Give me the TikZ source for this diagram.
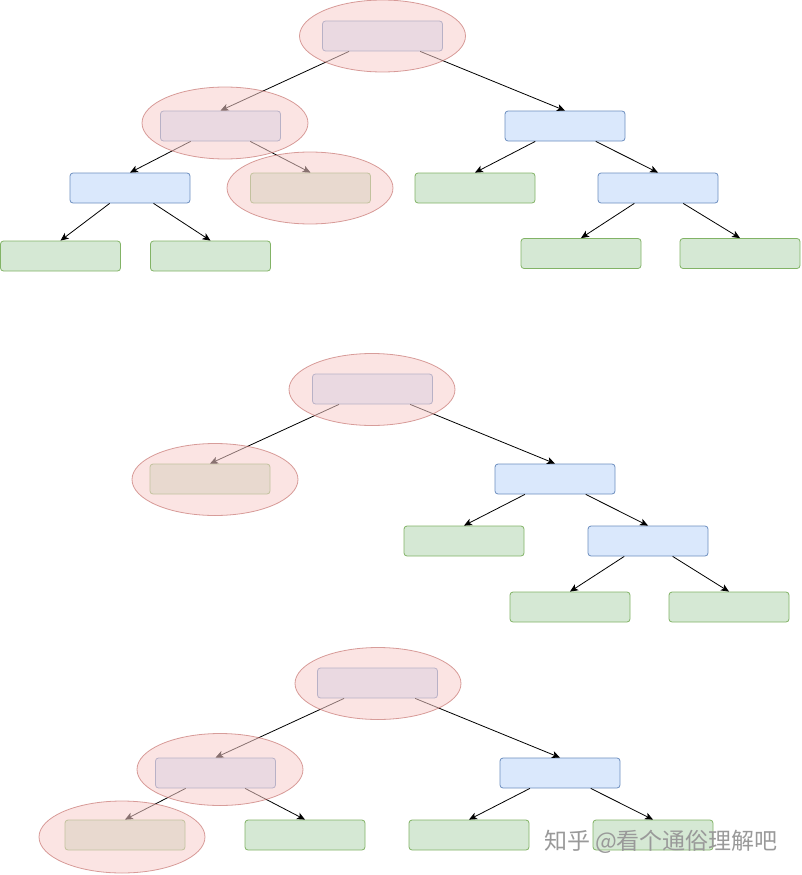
\documentclass[tikz,border=0pt]{standalone}
\usepackage{fontspec}
\newfontfamily\cjk{Noto Sans CJK SC}
\usetikzlibrary{arrows.meta,shapes.geometric}

\definecolor{bluefill}{HTML}{DAE8FC}
\definecolor{bluedraw}{HTML}{6C8EBF}
\definecolor{greenfill}{HTML}{D5E8D4}
\definecolor{greendraw}{HTML}{82B366}
\definecolor{redfill}{HTML}{F8CECC}
\definecolor{reddraw}{HTML}{B85450}

\begin{document}
\begin{tikzpicture}[x=1pt, y=-1pt,
    box/.style={rectangle, rounded corners=3pt, minimum width=120pt, minimum height=30pt, inner sep=0pt, line width=0.8pt},
    inner/.style={box, fill=bluefill, draw=bluedraw},
    leaf/.style={box, fill=greenfill, draw=greendraw},
    hl/.style={ellipse, minimum width=166pt, minimum height=72pt, inner sep=0pt, fill=redfill, draw=reddraw, line width=0.8pt, opacity=0.55},
    arr/.style={-{Stealth[length=8pt,width=7pt,inset=2pt]}, line width=0.8pt}]
    \useasboundingbox (0,0) rectangle (801,875);
    % Tree 1
    \node[inner] (ar) at (382.5,36) {};
    \node[inner] (aa) at (220.5,126) {};
    \node[inner] (ab) at (565,126) {};
    \node[inner] (ac) at (130,188) {};
    \node[leaf] (ad) at (310.5,188) {};
    \node[leaf] (ae) at (475,188) {};
    \node[inner] (af) at (658,188) {};
    \node[leaf] (ag) at (60.5,256) {};
    \node[leaf] (ah) at (210.5,256) {};
    \node[leaf] (ai) at (581,253.5) {};
    \node[leaf] (aj) at (740,253.5) {};
    \draw[arr] (ar) -- (aa.north);
    \draw[arr] (ar) -- (ab.north);
    \draw[arr] (aa) -- (ac.north);
    \draw[arr] (aa) -- (ad.north);
    \draw[arr] (ab) -- (ae.north);
    \draw[arr] (ab) -- (af.north);
    \draw[arr] (ac) -- (ag.north);
    \draw[arr] (ac) -- (ah.north);
    \draw[arr] (af) -- (ai.north);
    \draw[arr] (af) -- (aj.north);
    \node[hl] (ahr) at (382.5,36) {};
    \node[hl] (aha) at (225,123) {};
    \node[hl] (ahd) at (310,188) {};
    % Tree 2
    \node[inner] (br) at (372.5,389) {};
    \node[leaf] (ba) at (210,479) {};
    \node[inner] (bb) at (555,479) {};
    \node[leaf] (be) at (464,541) {};
    \node[inner] (bf) at (648,541) {};
    \node[leaf] (bg) at (570,607) {};
    \node[leaf] (bh) at (729,607) {};
    \draw[arr] (br) -- (ba.north);
    \draw[arr] (br) -- (bb.north);
    \draw[arr] (bb) -- (be.north);
    \draw[arr] (bb) -- (bf.north);
    \draw[arr] (bf) -- (bg.north);
    \draw[arr] (bf) -- (bh.north);
    \node[hl] (bhr) at (372,389.5) {};
    \node[hl] (bha) at (215,479.5) {};
    % Tree 3
    \node[inner] (cr) at (377.5,683) {};
    \node[inner] (ca) at (215.5,773) {};
    \node[inner] (cb) at (560,773) {};
    \node[leaf] (cc) at (125,835) {};
    \node[leaf] (cd) at (305,835) {};
    \node[leaf] (ce) at (469,835) {};
    \node[leaf] (cf) at (653,835) {};
    \draw[arr] (cr) -- (ca.north);
    \draw[arr] (cr) -- (cb.north);
    \draw[arr] (ca) -- (cc.north);
    \draw[arr] (ca) -- (cd.north);
    \draw[arr] (cb) -- (ce.north);
    \draw[arr] (cb) -- (cf.north);
    \node[hl] (chr) at (378,683.5) {};
    \node[hl] (cha) at (220,769.5) {};
    \node[hl] (chc) at (122,837) {};
    % Watermark
    \node[text=black!40, font=\cjk\fontsize{23}{23}\selectfont, inner sep=0pt] (mark) at (661,842) {知乎 @看个通俗理解吧};
\end{tikzpicture}
\end{document}
